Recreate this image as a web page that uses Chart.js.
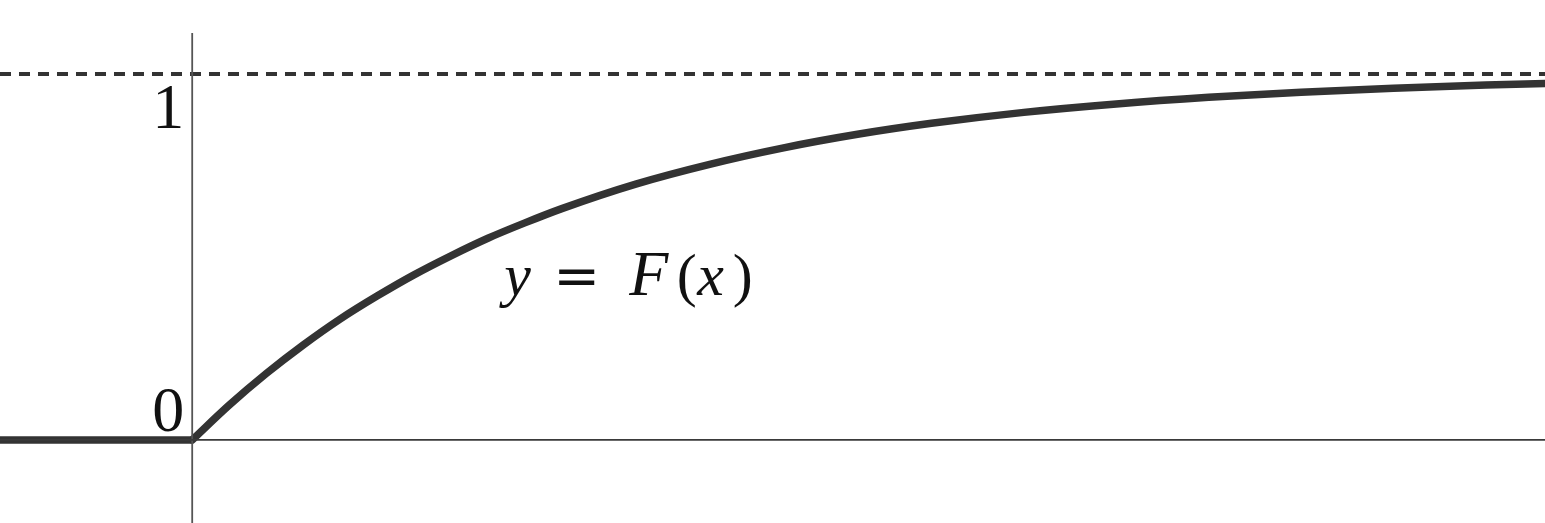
<!DOCTYPE html>
<html>
<head>
<meta charset="utf-8">
<script src="https://cdn.jsdelivr.net/npm/chart.js@4/dist/chart.umd.min.js"></script>
<style>
  html, body { margin: 0; padding: 0; background: #fff; }
  canvas { display: block; }
</style>
</head>
<body>
<canvas id="cdf" width="1545" height="523"></canvas>
<script>
// values
const curveX = [0, 0.1, 0.2, 0.3, 0.4, 0.5, 0.6, 0.7, 0.8, 0.9, 1.0, 1.2, 1.4, 1.6, 1.8, 2.0, 2.25, 2.5, 2.75, 3.0, 3.25, 3.5, 3.66];
const curveY = [0, 0.095, 0.181, 0.259, 0.33, 0.393, 0.451, 0.503, 0.551, 0.593, 0.632, 0.699, 0.753, 0.798, 0.835, 0.865, 0.895, 0.918, 0.936, 0.95, 0.961, 0.97, 0.974];
const leftX = [-0.52, 0];
const leftY = [0, 0];
const xRange = [-0.52, 3.66];
const yRange = [-0.227, 1.202];
const yAxisSpan = [-0.227, 1.112];
const asymptote = 1;
const tickLabels = ["0", "1"];
const tickValues = [0, 1];
const curveLabel = [["y", true], ["=", false], ["F", true], ["(", false], ["x", true], [")", false]];
const labelAt = { x: 0.84, y: 0.396 };

const ink = "#333333";
const pts = (xs, ys) => xs.map((x, i) => ({ x: x, y: ys[i] }));

const labelsPlugin = {
  id: "labels",
  afterDatasetsDraw(chart) {
    const c = chart.ctx;
    const sx = chart.scales.x, sy = chart.scales.y;
    c.save();
    c.fillStyle = "#111";
    c.font = '64px "Liberation Serif", "DejaVu Serif", serif';
    c.textAlign = "right";
    c.textBaseline = "alphabetic";
    const ax = sx.getPixelForValue(0);
    tickValues.forEach((v, i) => {
      const py = sy.getPixelForValue(v);
      c.fillText(tickLabels[i], ax - 8, i === 0 ? py - 9 : py + 54);
    });
    // y = F(x), each glyph centred in its slot
    const offs = [15, 74, 146, 184, 208, 240];
    const bx = sx.getPixelForValue(labelAt.x), by = sy.getPixelForValue(labelAt.y);
    c.textAlign = "center";
    curveLabel.forEach((p, i) => {
      if (p[0] === "=") c.font = '56px "DejaVu Serif", serif';
      else c.font = (p[1] ? "italic " : "") + (p[0] === "F" ? "64px" : "60px") + ' "Liberation Serif", "DejaVu Serif", serif';
      c.fillText(p[0], bx + offs[i], by);
    });
    c.restore();
  }
};

new Chart(document.getElementById("cdf").getContext("2d"), {
  type: "line",
  data: {
    datasets: [
      {
        data: pts(xRange, [0, 0]),
        borderColor: "#3a3a3a", borderWidth: 1.8, pointRadius: 0
      },
      {
        data: pts([0, 0], yAxisSpan),
        borderColor: "#555", borderWidth: 1.8, pointRadius: 0
      },
      {
        data: pts(xRange, [asymptote, asymptote]),
        borderColor: ink, borderWidth: 4, borderDash: [11, 8], pointRadius: 0
      },
      {
        data: pts(leftX, leftY),
        borderColor: ink, borderWidth: 7.5, pointRadius: 0
      },
      {
        data: pts(curveX, curveY),
        borderColor: ink, borderWidth: 7.5, pointRadius: 0,
        cubicInterpolationMode: "monotone", borderCapStyle: "round", borderJoinStyle: "round"
      }
    ]
  },
  options: {
    responsive: false,
    animation: false,
    layout: { padding: 0 },
    plugins: { legend: { display: false }, tooltip: { enabled: false } },
    scales: {
      x: { type: "linear", min: xRange[0], max: xRange[1], display: false },
      y: { type: "linear", min: yRange[0], max: yRange[1], display: false }
    }
  },
  plugins: [labelsPlugin]
});
</script>
</body>
</html>
